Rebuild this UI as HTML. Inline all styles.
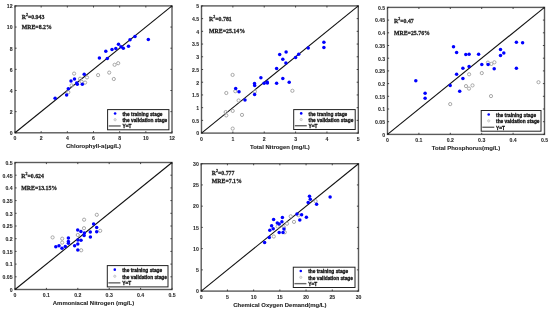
<!DOCTYPE html>
<html><head><meta charset="utf-8"><title>Scatter plots</title>
<style>
html,body{margin:0;padding:0;background:#fff;overflow:hidden;}
svg{display:block;}
.tk{font-family:'Liberation Sans', Arial, sans-serif;font-weight:bold;font-size:5.8px;fill:#2a2a2a;stroke:#2a2a2a;stroke-width:0.08px;}
.lab{font-family:'Liberation Sans', Arial, sans-serif;font-weight:bold;font-size:6.1px;fill:#262626;stroke:#262626;stroke-width:0.1px;}
.leg{font-family:'Liberation Sans', Arial, sans-serif;font-weight:bold;font-size:4.8px;fill:#151515;stroke:#151515;stroke-width:0.28px;}
.txt{font-family:'Liberation Serif', 'Times New Roman', serif;font-weight:bold;font-size:6.8px;fill:#1e1e1e;stroke:#1e1e1e;stroke-width:0.28px;}
</style></head>
<body>
<svg width="550" height="312" viewBox="0 0 550 312">
<rect width="550" height="312" fill="#fff"/>
<g>
<rect x="15.00" y="5.90" width="157.00" height="126.90" fill="none" stroke="#5a5a5a" stroke-width="1.4"/>
<path d="M15.00 132.80v-1.6M15.00 5.90v1.6M41.17 132.80v-1.6M41.17 5.90v1.6M67.33 132.80v-1.6M67.33 5.90v1.6M93.50 132.80v-1.6M93.50 5.90v1.6M119.67 132.80v-1.6M119.67 5.90v1.6M145.83 132.80v-1.6M145.83 5.90v1.6M172.00 132.80v-1.6M172.00 5.90v1.6M15.00 132.80h1.6M172.00 132.80h-1.6M15.00 111.65h1.6M172.00 111.65h-1.6M15.00 90.50h1.6M172.00 90.50h-1.6M15.00 69.35h1.6M172.00 69.35h-1.6M15.00 48.20h1.6M172.00 48.20h-1.6M15.00 27.05h1.6M172.00 27.05h-1.6M15.00 5.90h1.6M172.00 5.90h-1.6" stroke="#333" stroke-width="0.9" fill="none"/>
<line x1="15.00" y1="132.80" x2="172.00" y2="5.90" stroke="#111" stroke-width="1.1"/>
<circle cx="68.3" cy="92.2" r="1.6" fill="none" stroke="#a8a8a8" stroke-width="1.0"/>
<circle cx="71.6" cy="85.4" r="1.6" fill="none" stroke="#a8a8a8" stroke-width="1.0"/>
<circle cx="74.1" cy="73.6" r="1.6" fill="none" stroke="#a8a8a8" stroke-width="1.0"/>
<circle cx="80.1" cy="78.7" r="1.6" fill="none" stroke="#a8a8a8" stroke-width="1.0"/>
<circle cx="81.7" cy="81.8" r="1.6" fill="none" stroke="#a8a8a8" stroke-width="1.0"/>
<circle cx="85.1" cy="82.6" r="1.6" fill="none" stroke="#a8a8a8" stroke-width="1.0"/>
<circle cx="87.0" cy="77.4" r="1.6" fill="none" stroke="#a8a8a8" stroke-width="1.0"/>
<circle cx="98.1" cy="75.1" r="1.6" fill="none" stroke="#a8a8a8" stroke-width="1.0"/>
<circle cx="109.2" cy="72.6" r="1.6" fill="none" stroke="#a8a8a8" stroke-width="1.0"/>
<circle cx="114.6" cy="64.8" r="1.6" fill="none" stroke="#a8a8a8" stroke-width="1.0"/>
<circle cx="118.2" cy="63.2" r="1.6" fill="none" stroke="#a8a8a8" stroke-width="1.0"/>
<circle cx="113.8" cy="79.0" r="1.6" fill="none" stroke="#a8a8a8" stroke-width="1.0"/>
<circle cx="55.1" cy="98.3" r="1.75" fill="#0000ff"/>
<circle cx="66.6" cy="95.0" r="1.75" fill="#0000ff"/>
<circle cx="68.3" cy="88.8" r="1.75" fill="#0000ff"/>
<circle cx="71.0" cy="81.0" r="1.75" fill="#0000ff"/>
<circle cx="74.5" cy="79.0" r="1.75" fill="#0000ff"/>
<circle cx="76.7" cy="82.9" r="1.75" fill="#0000ff"/>
<circle cx="77.3" cy="84.3" r="1.75" fill="#0000ff"/>
<circle cx="82.3" cy="84.3" r="1.75" fill="#0000ff"/>
<circle cx="84.2" cy="74.3" r="1.75" fill="#0000ff"/>
<circle cx="99.4" cy="57.9" r="1.75" fill="#0000ff"/>
<circle cx="105.8" cy="51.3" r="1.75" fill="#0000ff"/>
<circle cx="107.3" cy="58.6" r="1.75" fill="#0000ff"/>
<circle cx="112.0" cy="49.6" r="1.75" fill="#0000ff"/>
<circle cx="115.8" cy="48.5" r="1.75" fill="#0000ff"/>
<circle cx="118.5" cy="44.2" r="1.75" fill="#0000ff"/>
<circle cx="121.0" cy="46.8" r="1.75" fill="#0000ff"/>
<circle cx="123.3" cy="48.3" r="1.75" fill="#0000ff"/>
<circle cx="128.5" cy="46.3" r="1.75" fill="#0000ff"/>
<circle cx="130.0" cy="39.8" r="1.75" fill="#0000ff"/>
<circle cx="135.0" cy="36.4" r="1.75" fill="#0000ff"/>
<circle cx="148.3" cy="39.4" r="1.75" fill="#0000ff"/>
<text transform="translate(15.00 140.30) scale(0.89 1)" text-anchor="middle" class="tk">0</text>
<text transform="translate(41.17 140.30) scale(0.89 1)" text-anchor="middle" class="tk">2</text>
<text transform="translate(67.33 140.30) scale(0.89 1)" text-anchor="middle" class="tk">4</text>
<text transform="translate(93.50 140.30) scale(0.89 1)" text-anchor="middle" class="tk">6</text>
<text transform="translate(119.67 140.30) scale(0.89 1)" text-anchor="middle" class="tk">8</text>
<text transform="translate(145.83 140.30) scale(0.89 1)" text-anchor="middle" class="tk">10</text>
<text transform="translate(172.00 140.30) scale(0.89 1)" text-anchor="middle" class="tk">12</text>
<text transform="translate(12.60 135.10) scale(0.89 1)" text-anchor="end" class="tk">0</text>
<text transform="translate(12.60 113.95) scale(0.89 1)" text-anchor="end" class="tk">2</text>
<text transform="translate(12.60 92.80) scale(0.89 1)" text-anchor="end" class="tk">4</text>
<text transform="translate(12.60 71.65) scale(0.89 1)" text-anchor="end" class="tk">6</text>
<text transform="translate(12.60 50.50) scale(0.89 1)" text-anchor="end" class="tk">8</text>
<text transform="translate(12.60 29.35) scale(0.89 1)" text-anchor="end" class="tk">10</text>
<text transform="translate(12.60 8.20) scale(0.89 1)" text-anchor="end" class="tk">12</text>
<text x="66.07" y="148.30" textLength="54.87" lengthAdjust="spacingAndGlyphs" class="lab">Chlorophyll-a(μg/L)</text>
<text transform="translate(21.7 19.0) scale(0.86 1)" class="txt">R<tspan dy="-3.3" font-size="4.6">2</tspan><tspan dy="3.3">=0.943</tspan></text>
<text transform="translate(21.7 28.9) scale(0.86 1)" class="txt">MRE=8.2%</text>
<rect x="107.6" y="109.6" width="61.30" height="20.20" fill="#fff" stroke="#222" stroke-width="1.0"/>
<circle cx="115.10" cy="113.44" r="1.3" fill="#0000ff"/>
<circle cx="115.10" cy="119.70" r="1.15" fill="#e6e6e6" stroke="#bdbdbd" stroke-width="0.7"/>
<line x1="108.70" y1="125.96" x2="120.70" y2="125.96" stroke="#666" stroke-width="1.4"/>
<text x="122.50" y="115.84" class="leg">the training stage</text>
<text x="122.50" y="122.10" class="leg">the validation stage</text>
<text x="122.50" y="128.36" class="leg">Y=T</text>
</g>
<g>
<rect x="201.50" y="5.90" width="156.80" height="127.20" fill="none" stroke="#5a5a5a" stroke-width="1.4"/>
<path d="M201.50 133.10v-1.6M201.50 5.90v1.6M232.86 133.10v-1.6M232.86 5.90v1.6M264.22 133.10v-1.6M264.22 5.90v1.6M295.58 133.10v-1.6M295.58 5.90v1.6M326.94 133.10v-1.6M326.94 5.90v1.6M358.30 133.10v-1.6M358.30 5.90v1.6M201.50 133.10h1.6M358.30 133.10h-1.6M201.50 120.38h1.6M358.30 120.38h-1.6M201.50 107.66h1.6M358.30 107.66h-1.6M201.50 94.94h1.6M358.30 94.94h-1.6M201.50 82.22h1.6M358.30 82.22h-1.6M201.50 69.50h1.6M358.30 69.50h-1.6M201.50 56.78h1.6M358.30 56.78h-1.6M201.50 44.06h1.6M358.30 44.06h-1.6M201.50 31.34h1.6M358.30 31.34h-1.6M201.50 18.62h1.6M358.30 18.62h-1.6M201.50 5.90h1.6M358.30 5.90h-1.6" stroke="#333" stroke-width="0.9" fill="none"/>
<line x1="201.50" y1="133.10" x2="358.30" y2="5.90" stroke="#111" stroke-width="1.1"/>
<circle cx="232.6" cy="74.9" r="1.6" fill="none" stroke="#a8a8a8" stroke-width="1.0"/>
<circle cx="235.3" cy="91.2" r="1.6" fill="none" stroke="#a8a8a8" stroke-width="1.0"/>
<circle cx="226.3" cy="93.0" r="1.6" fill="none" stroke="#a8a8a8" stroke-width="1.0"/>
<circle cx="254.9" cy="91.5" r="1.6" fill="none" stroke="#a8a8a8" stroke-width="1.0"/>
<circle cx="238.6" cy="100.5" r="1.6" fill="none" stroke="#a8a8a8" stroke-width="1.0"/>
<circle cx="232.7" cy="110.9" r="1.6" fill="none" stroke="#a8a8a8" stroke-width="1.0"/>
<circle cx="225.7" cy="112.1" r="1.6" fill="none" stroke="#a8a8a8" stroke-width="1.0"/>
<circle cx="226.3" cy="115.4" r="1.6" fill="none" stroke="#a8a8a8" stroke-width="1.0"/>
<circle cx="242.0" cy="114.9" r="1.6" fill="none" stroke="#a8a8a8" stroke-width="1.0"/>
<circle cx="232.7" cy="128.6" r="1.6" fill="none" stroke="#a8a8a8" stroke-width="1.0"/>
<circle cx="292.4" cy="90.8" r="1.6" fill="none" stroke="#a8a8a8" stroke-width="1.0"/>
<circle cx="235.7" cy="88.6" r="1.75" fill="#0000ff"/>
<circle cx="239.0" cy="91.7" r="1.75" fill="#0000ff"/>
<circle cx="245.0" cy="100.1" r="1.75" fill="#0000ff"/>
<circle cx="254.5" cy="83.6" r="1.75" fill="#0000ff"/>
<circle cx="254.7" cy="85.4" r="1.75" fill="#0000ff"/>
<circle cx="254.6" cy="94.4" r="1.75" fill="#0000ff"/>
<circle cx="260.9" cy="77.8" r="1.75" fill="#0000ff"/>
<circle cx="264.1" cy="83.2" r="1.75" fill="#0000ff"/>
<circle cx="267.1" cy="82.0" r="1.75" fill="#0000ff"/>
<circle cx="267.4" cy="83.0" r="1.75" fill="#0000ff"/>
<circle cx="276.6" cy="68.6" r="1.75" fill="#0000ff"/>
<circle cx="276.6" cy="83.2" r="1.75" fill="#0000ff"/>
<circle cx="279.7" cy="54.6" r="1.75" fill="#0000ff"/>
<circle cx="282.8" cy="59.3" r="1.75" fill="#0000ff"/>
<circle cx="282.8" cy="78.5" r="1.75" fill="#0000ff"/>
<circle cx="285.9" cy="63.0" r="1.75" fill="#0000ff"/>
<circle cx="286.1" cy="52.0" r="1.75" fill="#0000ff"/>
<circle cx="289.2" cy="82.2" r="1.75" fill="#0000ff"/>
<circle cx="295.6" cy="57.5" r="1.75" fill="#0000ff"/>
<circle cx="298.7" cy="54.3" r="1.75" fill="#0000ff"/>
<circle cx="308.2" cy="48.0" r="1.75" fill="#0000ff"/>
<circle cx="323.9" cy="42.2" r="1.75" fill="#0000ff"/>
<circle cx="323.9" cy="47.4" r="1.75" fill="#0000ff"/>
<text transform="translate(201.50 140.60) scale(0.89 1)" text-anchor="middle" class="tk">0</text>
<text transform="translate(232.86 140.60) scale(0.89 1)" text-anchor="middle" class="tk">1</text>
<text transform="translate(264.22 140.60) scale(0.89 1)" text-anchor="middle" class="tk">2</text>
<text transform="translate(295.58 140.60) scale(0.89 1)" text-anchor="middle" class="tk">3</text>
<text transform="translate(326.94 140.60) scale(0.89 1)" text-anchor="middle" class="tk">4</text>
<text transform="translate(358.30 140.60) scale(0.89 1)" text-anchor="middle" class="tk">5</text>
<text transform="translate(199.10 135.40) scale(0.89 1)" text-anchor="end" class="tk">0</text>
<text transform="translate(199.10 122.68) scale(0.89 1)" text-anchor="end" class="tk">0.5</text>
<text transform="translate(199.10 109.96) scale(0.89 1)" text-anchor="end" class="tk">1</text>
<text transform="translate(199.10 97.24) scale(0.89 1)" text-anchor="end" class="tk">1.5</text>
<text transform="translate(199.10 84.52) scale(0.89 1)" text-anchor="end" class="tk">2</text>
<text transform="translate(199.10 71.80) scale(0.89 1)" text-anchor="end" class="tk">2.5</text>
<text transform="translate(199.10 59.08) scale(0.89 1)" text-anchor="end" class="tk">3</text>
<text transform="translate(199.10 46.36) scale(0.89 1)" text-anchor="end" class="tk">3.5</text>
<text transform="translate(199.10 33.64) scale(0.89 1)" text-anchor="end" class="tk">4</text>
<text transform="translate(199.10 20.92) scale(0.89 1)" text-anchor="end" class="tk">4.5</text>
<text transform="translate(199.10 8.20) scale(0.89 1)" text-anchor="end" class="tk">5</text>
<text x="250.05" y="148.60" textLength="59.71" lengthAdjust="spacingAndGlyphs" class="lab">Total Nitrogen (mg/L)</text>
<text transform="translate(209.1 20.8) scale(0.86 1)" class="txt">R<tspan dy="-3.3" font-size="4.6">2</tspan><tspan dy="3.3">=0.781</tspan></text>
<text transform="translate(209.1 33.3) scale(0.86 1)" class="txt">MRE=25.14%</text>
<rect x="293.7" y="109.6" width="61.50" height="19.90" fill="#fff" stroke="#222" stroke-width="1.0"/>
<circle cx="301.20" cy="113.38" r="1.3" fill="#0000ff"/>
<circle cx="301.20" cy="119.55" r="1.15" fill="#e6e6e6" stroke="#bdbdbd" stroke-width="0.7"/>
<line x1="294.80" y1="125.72" x2="306.80" y2="125.72" stroke="#666" stroke-width="1.4"/>
<text x="308.60" y="115.78" class="leg">the traning stage</text>
<text x="308.60" y="121.95" class="leg">the validation stage</text>
<text x="308.60" y="128.12" class="leg">Y=T</text>
</g>
<g>
<rect x="387.50" y="7.40" width="157.00" height="127.00" fill="none" stroke="#5a5a5a" stroke-width="1.4"/>
<path d="M387.50 134.40v-1.6M387.50 7.40v1.6M418.90 134.40v-1.6M418.90 7.40v1.6M450.30 134.40v-1.6M450.30 7.40v1.6M481.70 134.40v-1.6M481.70 7.40v1.6M513.10 134.40v-1.6M513.10 7.40v1.6M544.50 134.40v-1.6M544.50 7.40v1.6M387.50 134.40h1.6M544.50 134.40h-1.6M387.50 121.70h1.6M544.50 121.70h-1.6M387.50 109.00h1.6M544.50 109.00h-1.6M387.50 96.30h1.6M544.50 96.30h-1.6M387.50 83.60h1.6M544.50 83.60h-1.6M387.50 70.90h1.6M544.50 70.90h-1.6M387.50 58.20h1.6M544.50 58.20h-1.6M387.50 45.50h1.6M544.50 45.50h-1.6M387.50 32.80h1.6M544.50 32.80h-1.6M387.50 20.10h1.6M544.50 20.10h-1.6M387.50 7.40h1.6M544.50 7.40h-1.6" stroke="#333" stroke-width="0.9" fill="none"/>
<line x1="387.50" y1="134.40" x2="544.50" y2="7.40" stroke="#111" stroke-width="1.1"/>
<circle cx="450.2" cy="104.1" r="1.6" fill="none" stroke="#a8a8a8" stroke-width="1.0"/>
<circle cx="469.1" cy="74.3" r="1.6" fill="none" stroke="#a8a8a8" stroke-width="1.0"/>
<circle cx="481.8" cy="73.1" r="1.6" fill="none" stroke="#a8a8a8" stroke-width="1.0"/>
<circle cx="487.9" cy="62.6" r="1.6" fill="none" stroke="#a8a8a8" stroke-width="1.0"/>
<circle cx="491.4" cy="63.9" r="1.6" fill="none" stroke="#a8a8a8" stroke-width="1.0"/>
<circle cx="494.4" cy="62.3" r="1.6" fill="none" stroke="#a8a8a8" stroke-width="1.0"/>
<circle cx="466.0" cy="86.1" r="1.6" fill="none" stroke="#a8a8a8" stroke-width="1.0"/>
<circle cx="469.0" cy="88.6" r="1.6" fill="none" stroke="#a8a8a8" stroke-width="1.0"/>
<circle cx="472.5" cy="85.4" r="1.6" fill="none" stroke="#a8a8a8" stroke-width="1.0"/>
<circle cx="491.0" cy="96.1" r="1.6" fill="none" stroke="#a8a8a8" stroke-width="1.0"/>
<circle cx="538.5" cy="82.2" r="1.6" fill="none" stroke="#a8a8a8" stroke-width="1.0"/>
<circle cx="415.8" cy="80.7" r="1.75" fill="#0000ff"/>
<circle cx="425.1" cy="93.2" r="1.75" fill="#0000ff"/>
<circle cx="425.1" cy="98.2" r="1.75" fill="#0000ff"/>
<circle cx="450.2" cy="85.6" r="1.75" fill="#0000ff"/>
<circle cx="459.7" cy="91.2" r="1.75" fill="#0000ff"/>
<circle cx="453.5" cy="46.7" r="1.75" fill="#0000ff"/>
<circle cx="456.6" cy="52.4" r="1.75" fill="#0000ff"/>
<circle cx="465.8" cy="54.4" r="1.75" fill="#0000ff"/>
<circle cx="469.1" cy="54.3" r="1.75" fill="#0000ff"/>
<circle cx="478.6" cy="54.3" r="1.75" fill="#0000ff"/>
<circle cx="456.6" cy="74.3" r="1.75" fill="#0000ff"/>
<circle cx="462.9" cy="68.2" r="1.75" fill="#0000ff"/>
<circle cx="469.1" cy="66.4" r="1.75" fill="#0000ff"/>
<circle cx="462.9" cy="78.4" r="1.75" fill="#0000ff"/>
<circle cx="481.8" cy="64.6" r="1.75" fill="#0000ff"/>
<circle cx="488.1" cy="64.6" r="1.75" fill="#0000ff"/>
<circle cx="494.2" cy="68.7" r="1.75" fill="#0000ff"/>
<circle cx="500.5" cy="49.5" r="1.75" fill="#0000ff"/>
<circle cx="503.8" cy="53.1" r="1.75" fill="#0000ff"/>
<circle cx="500.5" cy="55.4" r="1.75" fill="#0000ff"/>
<circle cx="516.4" cy="42.3" r="1.75" fill="#0000ff"/>
<circle cx="522.6" cy="42.8" r="1.75" fill="#0000ff"/>
<circle cx="516.4" cy="68.3" r="1.75" fill="#0000ff"/>
<text transform="translate(387.50 141.90) scale(0.89 1)" text-anchor="middle" class="tk">0</text>
<text transform="translate(418.90 141.90) scale(0.89 1)" text-anchor="middle" class="tk">0.1</text>
<text transform="translate(450.30 141.90) scale(0.89 1)" text-anchor="middle" class="tk">0.2</text>
<text transform="translate(481.70 141.90) scale(0.89 1)" text-anchor="middle" class="tk">0.3</text>
<text transform="translate(513.10 141.90) scale(0.89 1)" text-anchor="middle" class="tk">0.4</text>
<text transform="translate(544.50 141.90) scale(0.89 1)" text-anchor="middle" class="tk">0.5</text>
<text transform="translate(385.10 136.70) scale(0.89 1)" text-anchor="end" class="tk">0</text>
<text transform="translate(385.10 124.00) scale(0.89 1)" text-anchor="end" class="tk">0.05</text>
<text transform="translate(385.10 111.30) scale(0.89 1)" text-anchor="end" class="tk">0.1</text>
<text transform="translate(385.10 98.60) scale(0.89 1)" text-anchor="end" class="tk">0.15</text>
<text transform="translate(385.10 85.90) scale(0.89 1)" text-anchor="end" class="tk">0.2</text>
<text transform="translate(385.10 73.20) scale(0.89 1)" text-anchor="end" class="tk">0.25</text>
<text transform="translate(385.10 60.50) scale(0.89 1)" text-anchor="end" class="tk">0.3</text>
<text transform="translate(385.10 47.80) scale(0.89 1)" text-anchor="end" class="tk">0.35</text>
<text transform="translate(385.10 35.10) scale(0.89 1)" text-anchor="end" class="tk">0.4</text>
<text transform="translate(385.10 22.40) scale(0.89 1)" text-anchor="end" class="tk">0.45</text>
<text transform="translate(385.10 9.70) scale(0.89 1)" text-anchor="end" class="tk">0.5</text>
<text x="431.85" y="149.90" textLength="68.30" lengthAdjust="spacingAndGlyphs" class="lab">Total Phosphorus(mg/L)</text>
<text transform="translate(394.0 23.0) scale(0.86 1)" class="txt">R<tspan dy="-3.3" font-size="4.6">2</tspan><tspan dy="3.3">=0.47</tspan></text>
<text transform="translate(394.0 34.9) scale(0.86 1)" class="txt">MRE=25.76%</text>
<rect x="481.2" y="110.5" width="59.80" height="20.70" fill="#fff" stroke="#222" stroke-width="1.0"/>
<circle cx="488.70" cy="114.43" r="1.3" fill="#0000ff"/>
<circle cx="488.70" cy="120.85" r="1.15" fill="#e6e6e6" stroke="#bdbdbd" stroke-width="0.7"/>
<line x1="482.30" y1="127.27" x2="494.30" y2="127.27" stroke="#666" stroke-width="1.4"/>
<text x="496.10" y="116.83" class="leg">the training stage</text>
<text x="496.10" y="123.25" class="leg">the vaidation stage</text>
<text x="496.10" y="129.67" class="leg">Y=T</text>
</g>
<g>
<rect x="15.00" y="162.50" width="157.00" height="127.00" fill="none" stroke="#5a5a5a" stroke-width="1.4"/>
<path d="M15.00 289.50v-1.6M15.00 162.50v1.6M46.40 289.50v-1.6M46.40 162.50v1.6M77.80 289.50v-1.6M77.80 162.50v1.6M109.20 289.50v-1.6M109.20 162.50v1.6M140.60 289.50v-1.6M140.60 162.50v1.6M172.00 289.50v-1.6M172.00 162.50v1.6M15.00 289.50h1.6M172.00 289.50h-1.6M15.00 276.80h1.6M172.00 276.80h-1.6M15.00 264.10h1.6M172.00 264.10h-1.6M15.00 251.40h1.6M172.00 251.40h-1.6M15.00 238.70h1.6M172.00 238.70h-1.6M15.00 226.00h1.6M172.00 226.00h-1.6M15.00 213.30h1.6M172.00 213.30h-1.6M15.00 200.60h1.6M172.00 200.60h-1.6M15.00 187.90h1.6M172.00 187.90h-1.6M15.00 175.20h1.6M172.00 175.20h-1.6M15.00 162.50h1.6M172.00 162.50h-1.6" stroke="#333" stroke-width="0.9" fill="none"/>
<line x1="15.00" y1="289.50" x2="172.00" y2="162.50" stroke="#111" stroke-width="1.1"/>
<circle cx="52.6" cy="237.4" r="1.6" fill="none" stroke="#a8a8a8" stroke-width="1.0"/>
<circle cx="62.2" cy="238.7" r="1.6" fill="none" stroke="#a8a8a8" stroke-width="1.0"/>
<circle cx="62.2" cy="242.6" r="1.6" fill="none" stroke="#a8a8a8" stroke-width="1.0"/>
<circle cx="77.8" cy="235.0" r="1.6" fill="none" stroke="#a8a8a8" stroke-width="1.0"/>
<circle cx="84.0" cy="228.2" r="1.6" fill="none" stroke="#a8a8a8" stroke-width="1.0"/>
<circle cx="84.1" cy="219.7" r="1.6" fill="none" stroke="#a8a8a8" stroke-width="1.0"/>
<circle cx="96.8" cy="214.8" r="1.6" fill="none" stroke="#a8a8a8" stroke-width="1.0"/>
<circle cx="100.2" cy="230.8" r="1.6" fill="none" stroke="#a8a8a8" stroke-width="1.0"/>
<circle cx="81.2" cy="250.3" r="1.6" fill="none" stroke="#a8a8a8" stroke-width="1.0"/>
<circle cx="55.8" cy="246.8" r="1.75" fill="#0000ff"/>
<circle cx="59.0" cy="245.7" r="1.75" fill="#0000ff"/>
<circle cx="62.0" cy="248.2" r="1.75" fill="#0000ff"/>
<circle cx="65.3" cy="246.6" r="1.75" fill="#0000ff"/>
<circle cx="68.4" cy="237.9" r="1.75" fill="#0000ff"/>
<circle cx="68.4" cy="241.4" r="1.75" fill="#0000ff"/>
<circle cx="68.4" cy="243.2" r="1.75" fill="#0000ff"/>
<circle cx="74.6" cy="245.8" r="1.75" fill="#0000ff"/>
<circle cx="77.8" cy="244.1" r="1.75" fill="#0000ff"/>
<circle cx="77.9" cy="240.0" r="1.75" fill="#0000ff"/>
<circle cx="81.0" cy="240.2" r="1.75" fill="#0000ff"/>
<circle cx="77.7" cy="230.0" r="1.75" fill="#0000ff"/>
<circle cx="80.9" cy="231.6" r="1.75" fill="#0000ff"/>
<circle cx="84.4" cy="232.9" r="1.75" fill="#0000ff"/>
<circle cx="84.1" cy="235.5" r="1.75" fill="#0000ff"/>
<circle cx="90.3" cy="232.0" r="1.75" fill="#0000ff"/>
<circle cx="90.4" cy="237.1" r="1.75" fill="#0000ff"/>
<circle cx="93.6" cy="224.0" r="1.75" fill="#0000ff"/>
<circle cx="96.7" cy="227.6" r="1.75" fill="#0000ff"/>
<circle cx="96.7" cy="231.7" r="1.75" fill="#0000ff"/>
<circle cx="77.8" cy="250.1" r="1.75" fill="#0000ff"/>
<text transform="translate(15.00 297.00) scale(0.89 1)" text-anchor="middle" class="tk">0</text>
<text transform="translate(46.40 297.00) scale(0.89 1)" text-anchor="middle" class="tk">0.1</text>
<text transform="translate(77.80 297.00) scale(0.89 1)" text-anchor="middle" class="tk">0.2</text>
<text transform="translate(109.20 297.00) scale(0.89 1)" text-anchor="middle" class="tk">0.3</text>
<text transform="translate(140.60 297.00) scale(0.89 1)" text-anchor="middle" class="tk">0.4</text>
<text transform="translate(172.00 297.00) scale(0.89 1)" text-anchor="middle" class="tk">0.5</text>
<text transform="translate(12.60 291.80) scale(0.89 1)" text-anchor="end" class="tk">0</text>
<text transform="translate(12.60 279.10) scale(0.89 1)" text-anchor="end" class="tk">0.05</text>
<text transform="translate(12.60 266.40) scale(0.89 1)" text-anchor="end" class="tk">0.1</text>
<text transform="translate(12.60 253.70) scale(0.89 1)" text-anchor="end" class="tk">0.15</text>
<text transform="translate(12.60 241.00) scale(0.89 1)" text-anchor="end" class="tk">0.2</text>
<text transform="translate(12.60 228.30) scale(0.89 1)" text-anchor="end" class="tk">0.25</text>
<text transform="translate(12.60 215.60) scale(0.89 1)" text-anchor="end" class="tk">0.3</text>
<text transform="translate(12.60 202.90) scale(0.89 1)" text-anchor="end" class="tk">0.35</text>
<text transform="translate(12.60 190.20) scale(0.89 1)" text-anchor="end" class="tk">0.4</text>
<text transform="translate(12.60 177.50) scale(0.89 1)" text-anchor="end" class="tk">0.45</text>
<text transform="translate(12.60 164.80) scale(0.89 1)" text-anchor="end" class="tk">0.5</text>
<text x="52.84" y="305.00" textLength="81.32" lengthAdjust="spacingAndGlyphs" class="lab">Ammoniacal Nitrogen (mg/L)</text>
<text transform="translate(21.3 178.0) scale(0.86 1)" class="txt">R<tspan dy="-3.3" font-size="4.6">2</tspan><tspan dy="3.3">=0.624</tspan></text>
<text transform="translate(21.3 189.8) scale(0.86 1)" class="txt">MRE=13.15%</text>
<rect x="107.3" y="265.6" width="60.70" height="21.30" fill="#fff" stroke="#222" stroke-width="1.0"/>
<circle cx="114.80" cy="269.65" r="1.3" fill="#0000ff"/>
<circle cx="114.80" cy="276.25" r="1.15" fill="#e6e6e6" stroke="#bdbdbd" stroke-width="0.7"/>
<line x1="108.40" y1="282.85" x2="120.40" y2="282.85" stroke="#666" stroke-width="1.4"/>
<text x="122.20" y="272.05" class="leg">the training stage</text>
<text x="122.20" y="278.65" class="leg">the validation stage</text>
<text x="122.20" y="285.25" class="leg">Y=T</text>
</g>
<g>
<rect x="201.20" y="163.70" width="157.30" height="127.40" fill="none" stroke="#5a5a5a" stroke-width="1.4"/>
<path d="M201.20 291.10v-1.6M201.20 163.70v1.6M227.42 291.10v-1.6M227.42 163.70v1.6M253.63 291.10v-1.6M253.63 163.70v1.6M279.85 291.10v-1.6M279.85 163.70v1.6M306.07 291.10v-1.6M306.07 163.70v1.6M332.28 291.10v-1.6M332.28 163.70v1.6M358.50 291.10v-1.6M358.50 163.70v1.6M201.20 291.10h1.6M358.50 291.10h-1.6M201.20 269.87h1.6M358.50 269.87h-1.6M201.20 248.63h1.6M358.50 248.63h-1.6M201.20 227.40h1.6M358.50 227.40h-1.6M201.20 206.17h1.6M358.50 206.17h-1.6M201.20 184.93h1.6M358.50 184.93h-1.6M201.20 163.70h1.6M358.50 163.70h-1.6" stroke="#333" stroke-width="0.9" fill="none"/>
<line x1="201.20" y1="291.10" x2="358.50" y2="163.70" stroke="#111" stroke-width="1.1"/>
<circle cx="273.8" cy="236.5" r="1.6" fill="none" stroke="#a8a8a8" stroke-width="1.0"/>
<circle cx="277.6" cy="226.5" r="1.6" fill="none" stroke="#a8a8a8" stroke-width="1.0"/>
<circle cx="283.8" cy="227.3" r="1.6" fill="none" stroke="#a8a8a8" stroke-width="1.0"/>
<circle cx="284.8" cy="232.3" r="1.6" fill="none" stroke="#a8a8a8" stroke-width="1.0"/>
<circle cx="287.0" cy="223.7" r="1.6" fill="none" stroke="#a8a8a8" stroke-width="1.0"/>
<circle cx="290.7" cy="216.3" r="1.6" fill="none" stroke="#a8a8a8" stroke-width="1.0"/>
<circle cx="294.0" cy="221.9" r="1.6" fill="none" stroke="#a8a8a8" stroke-width="1.0"/>
<circle cx="298.4" cy="215.2" r="1.6" fill="none" stroke="#a8a8a8" stroke-width="1.0"/>
<circle cx="315.6" cy="201.2" r="1.6" fill="none" stroke="#a8a8a8" stroke-width="1.0"/>
<circle cx="264.6" cy="242.6" r="1.75" fill="#0000ff"/>
<circle cx="269.3" cy="237.5" r="1.75" fill="#0000ff"/>
<circle cx="269.8" cy="230.3" r="1.75" fill="#0000ff"/>
<circle cx="271.6" cy="225.7" r="1.75" fill="#0000ff"/>
<circle cx="273.2" cy="228.7" r="1.75" fill="#0000ff"/>
<circle cx="273.6" cy="219.5" r="1.75" fill="#0000ff"/>
<circle cx="277.3" cy="223.1" r="1.75" fill="#0000ff"/>
<circle cx="279.2" cy="224.0" r="1.75" fill="#0000ff"/>
<circle cx="281.9" cy="221.8" r="1.75" fill="#0000ff"/>
<circle cx="282.4" cy="217.6" r="1.75" fill="#0000ff"/>
<circle cx="279.2" cy="232.4" r="1.75" fill="#0000ff"/>
<circle cx="283.0" cy="232.5" r="1.75" fill="#0000ff"/>
<circle cx="284.0" cy="229.1" r="1.75" fill="#0000ff"/>
<circle cx="297.0" cy="213.9" r="1.75" fill="#0000ff"/>
<circle cx="301.6" cy="214.7" r="1.75" fill="#0000ff"/>
<circle cx="299.8" cy="220.1" r="1.75" fill="#0000ff"/>
<circle cx="306.4" cy="217.3" r="1.75" fill="#0000ff"/>
<circle cx="308.2" cy="202.6" r="1.75" fill="#0000ff"/>
<circle cx="309.5" cy="196.3" r="1.75" fill="#0000ff"/>
<circle cx="310.3" cy="199.2" r="1.75" fill="#0000ff"/>
<circle cx="316.6" cy="204.2" r="1.75" fill="#0000ff"/>
<circle cx="330.1" cy="197.0" r="1.75" fill="#0000ff"/>
<text transform="translate(201.20 298.60) scale(0.89 1)" text-anchor="middle" class="tk">0</text>
<text transform="translate(227.42 298.60) scale(0.89 1)" text-anchor="middle" class="tk">5</text>
<text transform="translate(253.63 298.60) scale(0.89 1)" text-anchor="middle" class="tk">10</text>
<text transform="translate(279.85 298.60) scale(0.89 1)" text-anchor="middle" class="tk">15</text>
<text transform="translate(306.07 298.60) scale(0.89 1)" text-anchor="middle" class="tk">20</text>
<text transform="translate(332.28 298.60) scale(0.89 1)" text-anchor="middle" class="tk">25</text>
<text transform="translate(358.50 298.60) scale(0.89 1)" text-anchor="middle" class="tk">30</text>
<text transform="translate(198.80 293.40) scale(0.89 1)" text-anchor="end" class="tk">0</text>
<text transform="translate(198.80 272.17) scale(0.89 1)" text-anchor="end" class="tk">5</text>
<text transform="translate(198.80 250.93) scale(0.89 1)" text-anchor="end" class="tk">10</text>
<text transform="translate(198.80 229.70) scale(0.89 1)" text-anchor="end" class="tk">15</text>
<text transform="translate(198.80 208.47) scale(0.89 1)" text-anchor="end" class="tk">20</text>
<text transform="translate(198.80 187.23) scale(0.89 1)" text-anchor="end" class="tk">25</text>
<text transform="translate(198.80 166.00) scale(0.89 1)" text-anchor="end" class="tk">30</text>
<text x="233.23" y="306.60" textLength="93.23" lengthAdjust="spacingAndGlyphs" class="lab">Chemical Oxygen Demand(mg/L)</text>
<text transform="translate(211.8 175.3) scale(0.86 1)" class="txt">R<tspan dy="-3.3" font-size="4.6">2</tspan><tspan dy="3.3">=0.777</tspan></text>
<text transform="translate(211.8 182.5) scale(0.86 1)" class="txt">MRE=7.1%</text>
<rect x="293.3" y="267.2" width="61.70" height="20.30" fill="#fff" stroke="#222" stroke-width="1.0"/>
<circle cx="300.80" cy="271.06" r="1.3" fill="#0000ff"/>
<circle cx="300.80" cy="277.35" r="1.15" fill="#e6e6e6" stroke="#bdbdbd" stroke-width="0.7"/>
<line x1="294.40" y1="283.64" x2="306.40" y2="283.64" stroke="#666" stroke-width="1.4"/>
<text x="308.20" y="273.46" class="leg">the training stage</text>
<text x="308.20" y="279.75" class="leg">the validation stage</text>
<text x="308.20" y="286.04" class="leg">Y=T</text>
</g>
</svg>
</body></html>
